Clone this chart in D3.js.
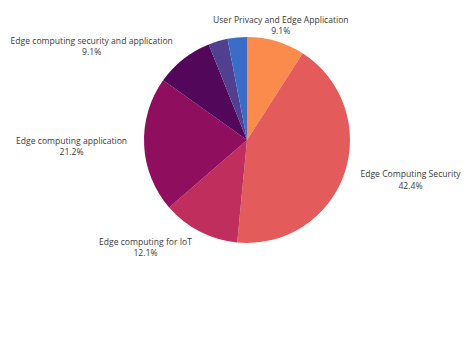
<!DOCTYPE html>
<html>
<head>
<meta charset="utf-8">
<script src="https://cdn.jsdelivr.net/npm/d3@7"></script>
<style>
html,body{margin:0;padding:0;background:#fff;}
svg{display:block;}
</style>
</head>
<body>
<svg id="chart" width="474" height="359"></svg>
<script>
const categories = [
  "User Privacy and Edge Application",
  "Edge Computing Security",
  "Edge computing for IoT",
  "Edge computing application",
  "Edge computing security and application",
  "Other 1",
  "Other 2"
];
const values = [3, 14, 4, 7, 3, 1, 1];
const showLabel = [true, true, true, true, true, false, false];
const colors = ["#fb8b4c", "#e35b5a", "#bf2e5d", "#8f0e5e", "#52075a", "#50408f", "#3b6dc8"];

const svg = d3.select("#chart");
const cx = 247, cy = 140, R = 103, labelR = 120;
const total = d3.sum(values);
const data = categories.map((c, i) => ({cat: c, value: values[i], color: colors[i], show: showLabel[i]}));

const pie = d3.pie().value(d => d.value).sort(null);
const arc = d3.arc().innerRadius(0).outerRadius(R);
const arcs = pie(data);

const g = svg.append("g").attr("transform", `translate(${cx},${cy})`);
g.selectAll("path").data(arcs).enter().append("path")
  .attr("d", arc)
  .attr("fill", d => d.data.color);

const fmt = d3.format(".1f");
g.selectAll("text.lbl").data(arcs.filter(d => d.data.show)).enter()
  .append("text").attr("class", "lbl")
  .attr("font-family", "'Open Sans', sans-serif")
  .attr("font-size", 8.6)
  .attr("fill", "#3a3a3a")
  .attr("text-anchor", "middle")
  .each(function(d) {
    const a = (d.startAngle + d.endAngle) / 2;
    const x = labelR * Math.sin(a), y = -labelR * Math.cos(a);
    const s = Math.sin(a);
    const t = d3.select(this);
    const t1 = t.append("tspan").attr("y", y - 2).text(d.data.cat);
    const t2 = t.append("tspan").attr("y", y + 9.5).text(fmt(d.data.value / total * 100) + "%");
    const w = Math.max(t1.node().getComputedTextLength(), t2.node().getComputedTextLength());
    let bx = x;
    if (Math.abs(s) >= 0.4) bx = s > 0 ? x + w / 2 : x - w / 2;
    t1.attr("x", bx);
    t2.attr("x", bx);
  });
</script>
</body>
</html>
